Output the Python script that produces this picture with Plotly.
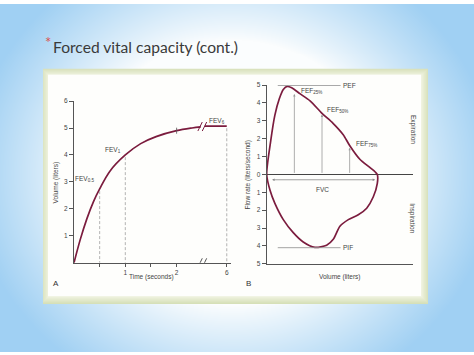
import numpy as np, zlib, struct, base64
import plotly.graph_objects as go

W, H = 474, 355

# ---------------- data ----------------
# Panel A: volume-time curve (time in s, volume in L)
time_pre = [0, 0.12, 0.25, 0.38, 0.5, 0.7, 1.0, 1.3, 1.6, 2.0, 2.3, 2.47]
vol_pre = [0, 0.85, 1.63, 2.27, 2.74, 3.4, 4.0, 4.42, 4.68, 4.9, 5.0, 5.04]
time_post = [5.5, 6.0]
vol_post = [5.07, 5.07]
fev_times = [0.5, 1.0, 6.0]
fev_vols = [2.74, 4.0, 5.07]
fev_labels = ["FEV<sub>0.5</sub>", "FEV<sub>1</sub>", "FEV<sub>6</sub>"]
a_xtick_times = [0.5, 1.0, 1.5, 2.0, 6.0]
a_xtick_text = ["", "1", "", "2", "6"]
a_ytick_vals = [1, 2, 3, 4, 5, 6]

# Panel B: flow-volume loop (volume in L, flow in L/s; inspiration negative)
exp_vol = [0, 0.18, 0.37, 0.57, 0.75, 0.93, 1.13, 1.5, 1.96, 2.5, 3.0, 3.46, 3.75, 4.21, 4.66, 4.92, 5.0]
exp_flow = [0, 1.86, 3.32, 4.23, 4.75, 4.93, 4.85, 4.52, 4.12, 3.42, 2.86, 2.22, 1.62, 0.85, 0.39, 0.12, 0]
insp_vol = [5.0, 4.82, 4.52, 4.14, 3.69, 3.31, 3.01, 2.71, 2.18, 1.65, 1.2, 0.75, 0.37, 0.15, 0]
insp_flow = [-0.5, -1.25, -1.89, -2.26, -2.53, -2.90, -3.63, -3.96, -4.08, -3.78, -3.26, -2.53, -1.62, -0.89, 0]
fef_vols = [1.25, 2.5, 3.75]
fef_flows = [4.5, 3.35, 1.49]
fef_labels = ["FEF<sub>25%</sub>", "FEF<sub>50%</sub>", "FEF<sub>75%</sub>"]
fef_label_pos = [(1.46, 4.69), (2.63, 3.6), (3.94, 1.71)]
pef = 4.98
pif = -4.1
fvc = 5.0
b_ytick_vals = [-5, -4, -3, -2, -1, 0, 1, 2, 3, 4, 5]

# ---------------- time axis with break ----------------
BREAK = 2.5
POS6 = 2.977
def tpos(t):
    if t <= BREAK:
        return t
    return 2.55 + (t - 5.5) * (POS6 - 2.55) / 0.5

# ---------------- background picture ----------------
yy, xx = np.mgrid[0:H, 0:W].astype(float)
d = np.sqrt(((xx - 232) / 255.0) ** 2 + ((yy - 172) / 235.0) ** 2)
f = np.clip((d - 0.58) / 0.45, 0, 1) ** 0.9
white = np.array([251, 253, 254.0])
blue = np.array([160, 208, 243.0])
img = white * (1 - f[..., None]) + blue * f[..., None]
# frame
ox0, oy0, ox1, oy1 = 43, 66, 428, 306
ix0, iy0, ix1, iy1 = 48, 72, 421, 298
fm = (xx >= ox0) & (xx < ox1) & (yy >= oy0) & (yy < oy1)
dist = np.maximum.reduce([ix0 - xx, xx - ix1, iy0 - yy, yy - iy1])
t = np.clip(dist / 7.0, 0, 1)
inner_c = np.array([240, 243, 224.0])
outer_c = np.array([214, 224, 184.0])
fc = inner_c * (1 - t[..., None]) + outer_c * t[..., None]
img[fm] = fc[fm]
wm = (xx >= ix0) & (xx < ix1) & (yy >= iy0) & (yy < iy1)
img[wm] = [254, 254, 252]
img = np.clip(img, 0, 255).astype(np.uint8)

def chunk(tag, data):
    c = struct.pack(">I", len(data)) + tag + data
    return c + struct.pack(">I", zlib.crc32(tag + data) & 0xFFFFFFFF)
raw = b"".join(b"\x00" + img[r].tobytes() for r in range(H))
png = (b"\x89PNG\r\n\x1a\n" + chunk(b"IHDR", struct.pack(">IIBBBBB", W, H, 8, 2, 0, 0, 0))
       + chunk(b"IDAT", zlib.compress(raw, 9)) + chunk(b"IEND", b""))
uri = "data:image/png;base64," + base64.b64encode(png).decode()

def PX(px):
    return px / W
def PY(py):
    return 1 - py / H

CURVE = "#7b1c3e"
AX = "#555555"
FONT = "Liberation Sans, Arial, sans-serif"

fig = go.Figure()

# Panel A curve
fig.add_trace(go.Scatter(x=[tpos(v) for v in time_pre], y=vol_pre, mode="lines",
                         line=dict(color=CURVE, width=1.7, shape="spline", smoothing=1.0),
                         xaxis="x", yaxis="y", hoverinfo="skip"))
fig.add_trace(go.Scatter(x=[tpos(v) for v in time_post], y=vol_post, mode="lines",
                         line=dict(color=CURVE, width=1.7), xaxis="x", yaxis="y", hoverinfo="skip"))
dx, dy = [], []
for tt, vv in zip(fev_times, fev_vols):
    dx += [tpos(tt), tpos(tt), None]
    dy += [vv - 0.08, 0, None]
fig.add_trace(go.Scatter(x=dx, y=dy, mode="lines", line=dict(color="#aaaaaa", width=0.9, dash="3px,2px"),
                         xaxis="x", yaxis="y", hoverinfo="skip"))

# Panel B loop
fig.add_trace(go.Scatter(x=exp_vol + insp_vol, y=exp_flow + insp_flow, mode="lines",
                         line=dict(color=CURVE, width=1.7, shape="spline", smoothing=0.7),
                         xaxis="x2", yaxis="y2", hoverinfo="skip"))
fig.add_trace(go.Scatter(x=[0.5, 3.34, None, 0.5, 3.34], y=[pef, pef, None, pif, pif], mode="lines",
                         line=dict(color="#999999", width=0.9), xaxis="x2", yaxis="y2", hoverinfo="skip"))

ann = []
shapes = []
# FEV labels
fev_lab_pos = [(0.43, 3.1), (0.95, 4.17), (POS6 + 0.01, 5.27)]
for lab, (lx, ly) in zip(fev_labels, fev_lab_pos):
    ann.append(dict(x=lx, y=ly, xref="x", yref="y", text=lab, showarrow=False, xanchor="right",
                    yanchor="middle", font=dict(family=FONT, size=6.5, color="#444")))
# FEF arrows and labels
for fv, ff, lab, (lx, ly) in zip(fef_vols, fef_flows, fef_labels, fef_label_pos):
    ann.append(dict(x=fv, y=ff, ax=fv, ay=0, xref="x2", yref="y2", axref="x2", ayref="y2", text="",
                    showarrow=True, arrowhead=2, arrowsize=0.6, arrowwidth=0.8, arrowcolor="#999999"))
    ann.append(dict(x=lx, y=ly, xref="x2", yref="y2", text=lab, showarrow=False, xanchor="left",
                    yanchor="middle", font=dict(family=FONT, size=6.5, color="#444")))
# FVC double arrow
ann.append(dict(x=fvc - 0.1, y=-0.3, ax=0.18, ay=-0.3, xref="x2", yref="y2", axref="x2", ayref="y2", text="",
                showarrow=True, arrowhead=2, startarrowhead=2, arrowside="end+start", arrowsize=0.6,
                startarrowsize=0.6, arrowwidth=0.8, arrowcolor="#888888"))
ann.append(dict(x=fvc / 2, y=-0.55, xref="x2", yref="y2", text="FVC", showarrow=False, yanchor="top",
                xanchor="center", font=dict(family=FONT, size=6.5, color="#444")))
ann.append(dict(x=3.38, y=pef, xref="x2", yref="y2", text="PEF", showarrow=False, xanchor="left",
                yanchor="middle", font=dict(family=FONT, size=6.5, color="#444")))
ann.append(dict(x=3.38, y=pif, xref="x2", yref="y2", text="PIF", showarrow=False, xanchor="left",
                yanchor="middle", font=dict(family=FONT, size=6.5, color="#444")))

# axis titles and panel letters (pixel placed)
def pann(px, py, text, size=6.5, angle=0, color="#444"):
    ann.append(dict(x=PX(px), y=PY(py), xref="paper", yref="paper", text=text, showarrow=False,
                    xanchor="center", yanchor="middle",
                    textangle=angle, font=dict(family=FONT, size=size, color=color)))
pann(56, 182, "Volume (liters)", angle=-90)
pann(151, 278, "Time (seconds)")
pann(248, 175, "Flow rate (liters/second)", angle=-90)
pann(340, 278, "Volume (liters)")
pann(412.5, 128, "Expiration", angle=90)
pann(412.5, 218, "Inspiration", angle=90)
pann(56, 285.5, "A", size=8, color="#333")
pann(248, 285.5, "B", size=8, color="#333")

# slide title
ann.append(dict(x=PX(42.5), y=PY(39), xref="paper", yref="paper", text="*", showarrow=False, xanchor="left",
                yanchor="middle", font=dict(family="Lato, sans-serif", size=15, color="#d9534f")))
ann.append(dict(x=PX(51), y=PY(43.5), xref="paper", yref="paper", text="Forced vital capacity (cont.)",
                showarrow=False, xanchor="left", yanchor="middle",
                font=dict(family="Lato, sans-serif", size=15.6, color="#3a3a3a")))

# break marks on curve and axis
for (bx, by) in [(BREAK, 5.055), (BREAK, 0)]:
    for off in (-2.2, 2.2):
        shapes.append(dict(type="line", xref="x", yref="y", xsizemode="pixel", ysizemode="pixel",
                           xanchor=bx, yanchor=by, x0=off - 2.2, y0=-4.5, x1=off + 2.2, y1=4.5,
                           line=dict(color=CURVE if by > 0 else AX, width=1)))
# small tick on curve at 2 s
shapes.append(dict(type="line", xref="x", yref="y", ysizemode="pixel", yanchor=4.9,
                   x0=2.0, x1=2.0, y0=-3, y1=3, line=dict(color=AX, width=0.8)))

tickfont = dict(family=FONT, size=6.5, color="#444")
fig.update_layout(
    width=W, height=H, autosize=False,
    margin=dict(l=0, r=0, t=0, b=0),
    paper_bgcolor="white", plot_bgcolor="rgba(0,0,0,0)",
    showlegend=False,
    images=[dict(source=uri, xref="paper", yref="paper", x=0, y=1, sizex=1, sizey=1,
                 sizing="stretch", xanchor="left", yanchor="top", layer="below")],
    xaxis=dict(domain=[PX(74), PX(230.5)], range=[0, 3.05], anchor="y", showgrid=False, zeroline=False,
               showline=True, linecolor=AX, linewidth=1.2, ticks="outside", ticklen=3, tickcolor=AX,
               tickwidth=1, tickvals=[tpos(v) for v in a_xtick_times], ticktext=a_xtick_text,
               tickfont=tickfont, fixedrange=True),
    yaxis=dict(domain=[PY(264), PY(99)], range=[0, 6], anchor="x", showgrid=False, zeroline=False,
               showline=True, linecolor=AX, linewidth=1.2, ticks="outside", ticklen=4, tickcolor=AX,
               tickwidth=1, tickvals=a_ytick_vals, tickfont=tickfont, fixedrange=True),
    xaxis2=dict(domain=[PX(266.7), PX(412.7)], range=[0, 6.6], anchor="y2", showgrid=False, zeroline=False,
                showline=True, linecolor=AX, linewidth=1.2, showticklabels=False, ticks="", fixedrange=True),
    yaxis2=dict(domain=[PY(265), PY(82.7)], range=[-5, 5], anchor="x2", showgrid=False, zeroline=True,
                zerolinecolor="#444", zerolinewidth=1.3, showline=True, linecolor=AX, linewidth=1.2,
                ticks="outside", ticklen=4, tickcolor=AX, tickwidth=1, tickvals=b_ytick_vals,
                ticktext=[str(abs(v)) for v in b_ytick_vals], tickfont=tickfont, fixedrange=True),
    annotations=ann,
    shapes=shapes,
)

fig.write_html("out.html")
